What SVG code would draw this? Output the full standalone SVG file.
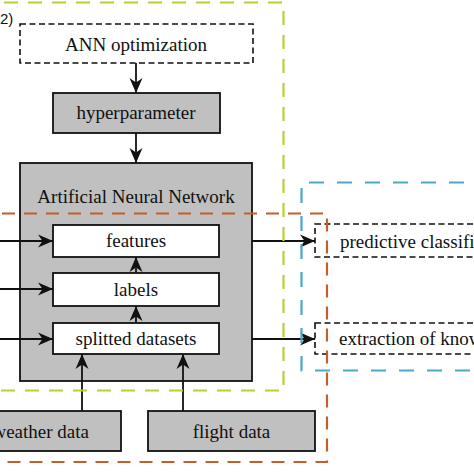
<svg xmlns="http://www.w3.org/2000/svg" width="474" height="474" viewBox="0 0 474 474">
<style>
.t{font-family:"Liberation Serif","Times New Roman",serif;font-size:19px;fill:#111;text-anchor:middle}
.ts{text-anchor:start}
.gray{fill:#c0c0c0;stroke:#111;stroke-width:1.8}
.white{fill:#fff;stroke:#111;stroke-width:1.8}
.dash{fill:none;stroke:#111;stroke-width:1.6;stroke-dasharray:6 3.5}
.con{fill:none;stroke:#111;stroke-width:1.8}
.green{fill:none;stroke:#b4d233;stroke-width:2.2;stroke-dasharray:14 10}
.orange{fill:none;stroke:#c0602a;stroke-width:2.2;stroke-dasharray:13 9}
.blue{fill:none;stroke:#4aa8c8;stroke-width:2.2;stroke-dasharray:15 13}
</style>
<defs>
<marker id="ah" markerUnits="userSpaceOnUse" markerWidth="16" markerHeight="16" viewBox="0 0 16 16" refX="15" refY="8" orient="auto">
<path d="M0,1.5 L15,8 L0,14.5 L4.5,8 z" fill="#111"/>
</marker>
</defs>
<g id="ann-optimization">
<rect class="dash" x="20" y="24" width="233" height="39"/>
<text class="t" x="136" y="51">ANN optimization</text>
</g>
<g id="hyperparameter">
<rect class="gray" x="53" y="93" width="167" height="40"/>
<text class="t" x="136" y="119">hyperparameter</text>
</g>
<g id="ann">
<rect class="gray" x="20" y="163" width="232" height="218"/>
<text class="t" x="136" y="203">Artificial Neural Network</text>
</g>
<g id="features">
<rect class="white" x="53" y="225" width="166" height="32"/>
<text class="t" x="136" y="247">features</text>
</g>
<g id="labels">
<rect class="white" x="53" y="273" width="166" height="33"/>
<text class="t" x="136" y="296">labels</text>
</g>
<g id="splitted-datasets">
<rect class="white" x="53" y="323" width="166" height="31"/>
<text class="t" x="136" y="345">splitted datasets</text>
</g>
<g id="weather-data">
<rect class="gray" x="-10" y="411" width="131" height="40"/>
<text class="t" x="89" y="438" style="text-anchor:end">weather data</text>
</g>
<g id="flight-data">
<rect class="gray" x="148" y="411" width="167" height="40"/>
<text class="t" x="231.5" y="438">flight data</text>
</g>
<g id="predictive-classification">
<rect class="dash" x="315" y="224" width="200" height="33"/>
<text class="t ts" x="340" y="248">predictive classification</text>
</g>
<g id="extraction-of-knowledge">
<rect class="dash" x="315" y="323" width="200" height="31"/>
<text class="t ts" x="339" y="345">extraction of knowledge</text>
</g>
<g id="connectors">
<line class="con" x1="136" y1="63" x2="136" y2="93" marker-end="url(#ah)"/>
<line class="con" x1="136" y1="133" x2="136" y2="163" marker-end="url(#ah)"/>
<line class="con" x1="136" y1="273" x2="136" y2="257" marker-end="url(#ah)"/>
<line class="con" x1="136" y1="323" x2="136" y2="306" marker-end="url(#ah)"/>
<line class="con" x1="0" y1="241" x2="53" y2="241" marker-end="url(#ah)"/>
<line class="con" x1="0" y1="289" x2="53" y2="289" marker-end="url(#ah)"/>
<line class="con" x1="0" y1="339" x2="53" y2="339" marker-end="url(#ah)"/>
<line class="con" x1="82" y1="411" x2="82" y2="354" marker-end="url(#ah)"/>
<line class="con" x1="183" y1="411" x2="183" y2="354" marker-end="url(#ah)"/>
<line class="con" x1="252" y1="241" x2="315" y2="241" marker-end="url(#ah)"/>
<line class="con" x1="252" y1="339" x2="315" y2="339" marker-end="url(#ah)"/>
</g>
<g id="regions">
<path class="green" d="M-20,2.5 H283.5 V390.5 H-20"/>
<path class="orange" d="M-20,213.5 H327 V462 H-20"/>
<path class="blue" d="M520,182.5 H301.5 V370.5 H520"/>
</g>
<text x="0" y="24" style="font-family:'Liberation Sans',Arial,sans-serif;font-size:15px;fill:#111">2)</text>
</svg>
